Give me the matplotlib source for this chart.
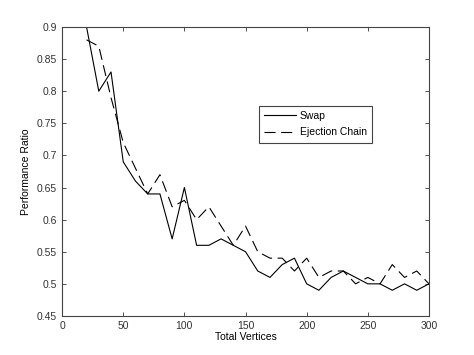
import numpy as np
import matplotlib
matplotlib.use("Agg")
import matplotlib.pyplot as plt

plt.rcParams['font.family'] = ['Liberation Sans', 'DejaVu Sans']

vertices = [20, 30, 40, 50, 60, 70, 80, 90, 100, 110, 120, 130, 140, 150, 160,
            170, 180, 190, 200, 210, 220, 230, 240, 250, 260, 270, 280, 290, 300]
swap = [0.90, 0.80, 0.83, 0.69, 0.66, 0.64, 0.64, 0.57, 0.65, 0.56, 0.56, 0.57, 0.56, 0.55, 0.52,
        0.51, 0.53, 0.54, 0.50, 0.49, 0.51, 0.52, 0.51, 0.50, 0.50, 0.49, 0.50, 0.49, 0.50]
ejection = [0.88, 0.87, 0.79, 0.72, 0.68, 0.64, 0.67, 0.62, 0.63, 0.60, 0.62, 0.59, 0.56, 0.59, 0.55,
            0.54, 0.54, 0.52, 0.54, 0.51, 0.52, 0.52, 0.50, 0.51, 0.50, 0.53, 0.51, 0.52, 0.50]

fig = plt.figure(figsize=(4.74, 3.55), dpi=100)
ax = fig.add_axes([0.131, 0.110, 0.774, 0.814])

ax.plot(vertices, swap, color='black', lw=0.8, label='Swap')
ax.plot(vertices, ejection, color='black', lw=0.8, dashes=(10, 5), label='Ejection Chain')

ax.set_xlim(0, 300)
ax.set_ylim(0.45, 0.9)
ax.set_xticks(np.arange(0, 301, 50))
ax.set_yticks(np.arange(0.45, 0.901, 0.05))
ax.set_yticklabels(['0.45', '0.5', '0.55', '0.6', '0.65', '0.7', '0.75', '0.8', '0.85', '0.9'])
ax.tick_params(direction='in', top=True, right=True, labelsize=7.5, length=3, width=0.6, colors='#333333')
for s in ax.spines.values():
    s.set_color('#444444')
    s.set_linewidth(0.8)

ax.set_xlabel('Total Vertices', fontsize=7.5, labelpad=1)
ax.set_ylabel('Performance Ratio', fontsize=7.5, labelpad=4)

leg = ax.legend(loc='upper left', bbox_to_anchor=(0.537, 0.727), fontsize=7.5,
                handlelength=3.0, fancybox=False, framealpha=1, borderpad=0.5,
                labelspacing=0.6, handletextpad=0.4, borderaxespad=0)
leg.get_frame().set_edgecolor('#444444')
leg.get_frame().set_linewidth(0.8)

fig.savefig('out.png', dpi=100)
